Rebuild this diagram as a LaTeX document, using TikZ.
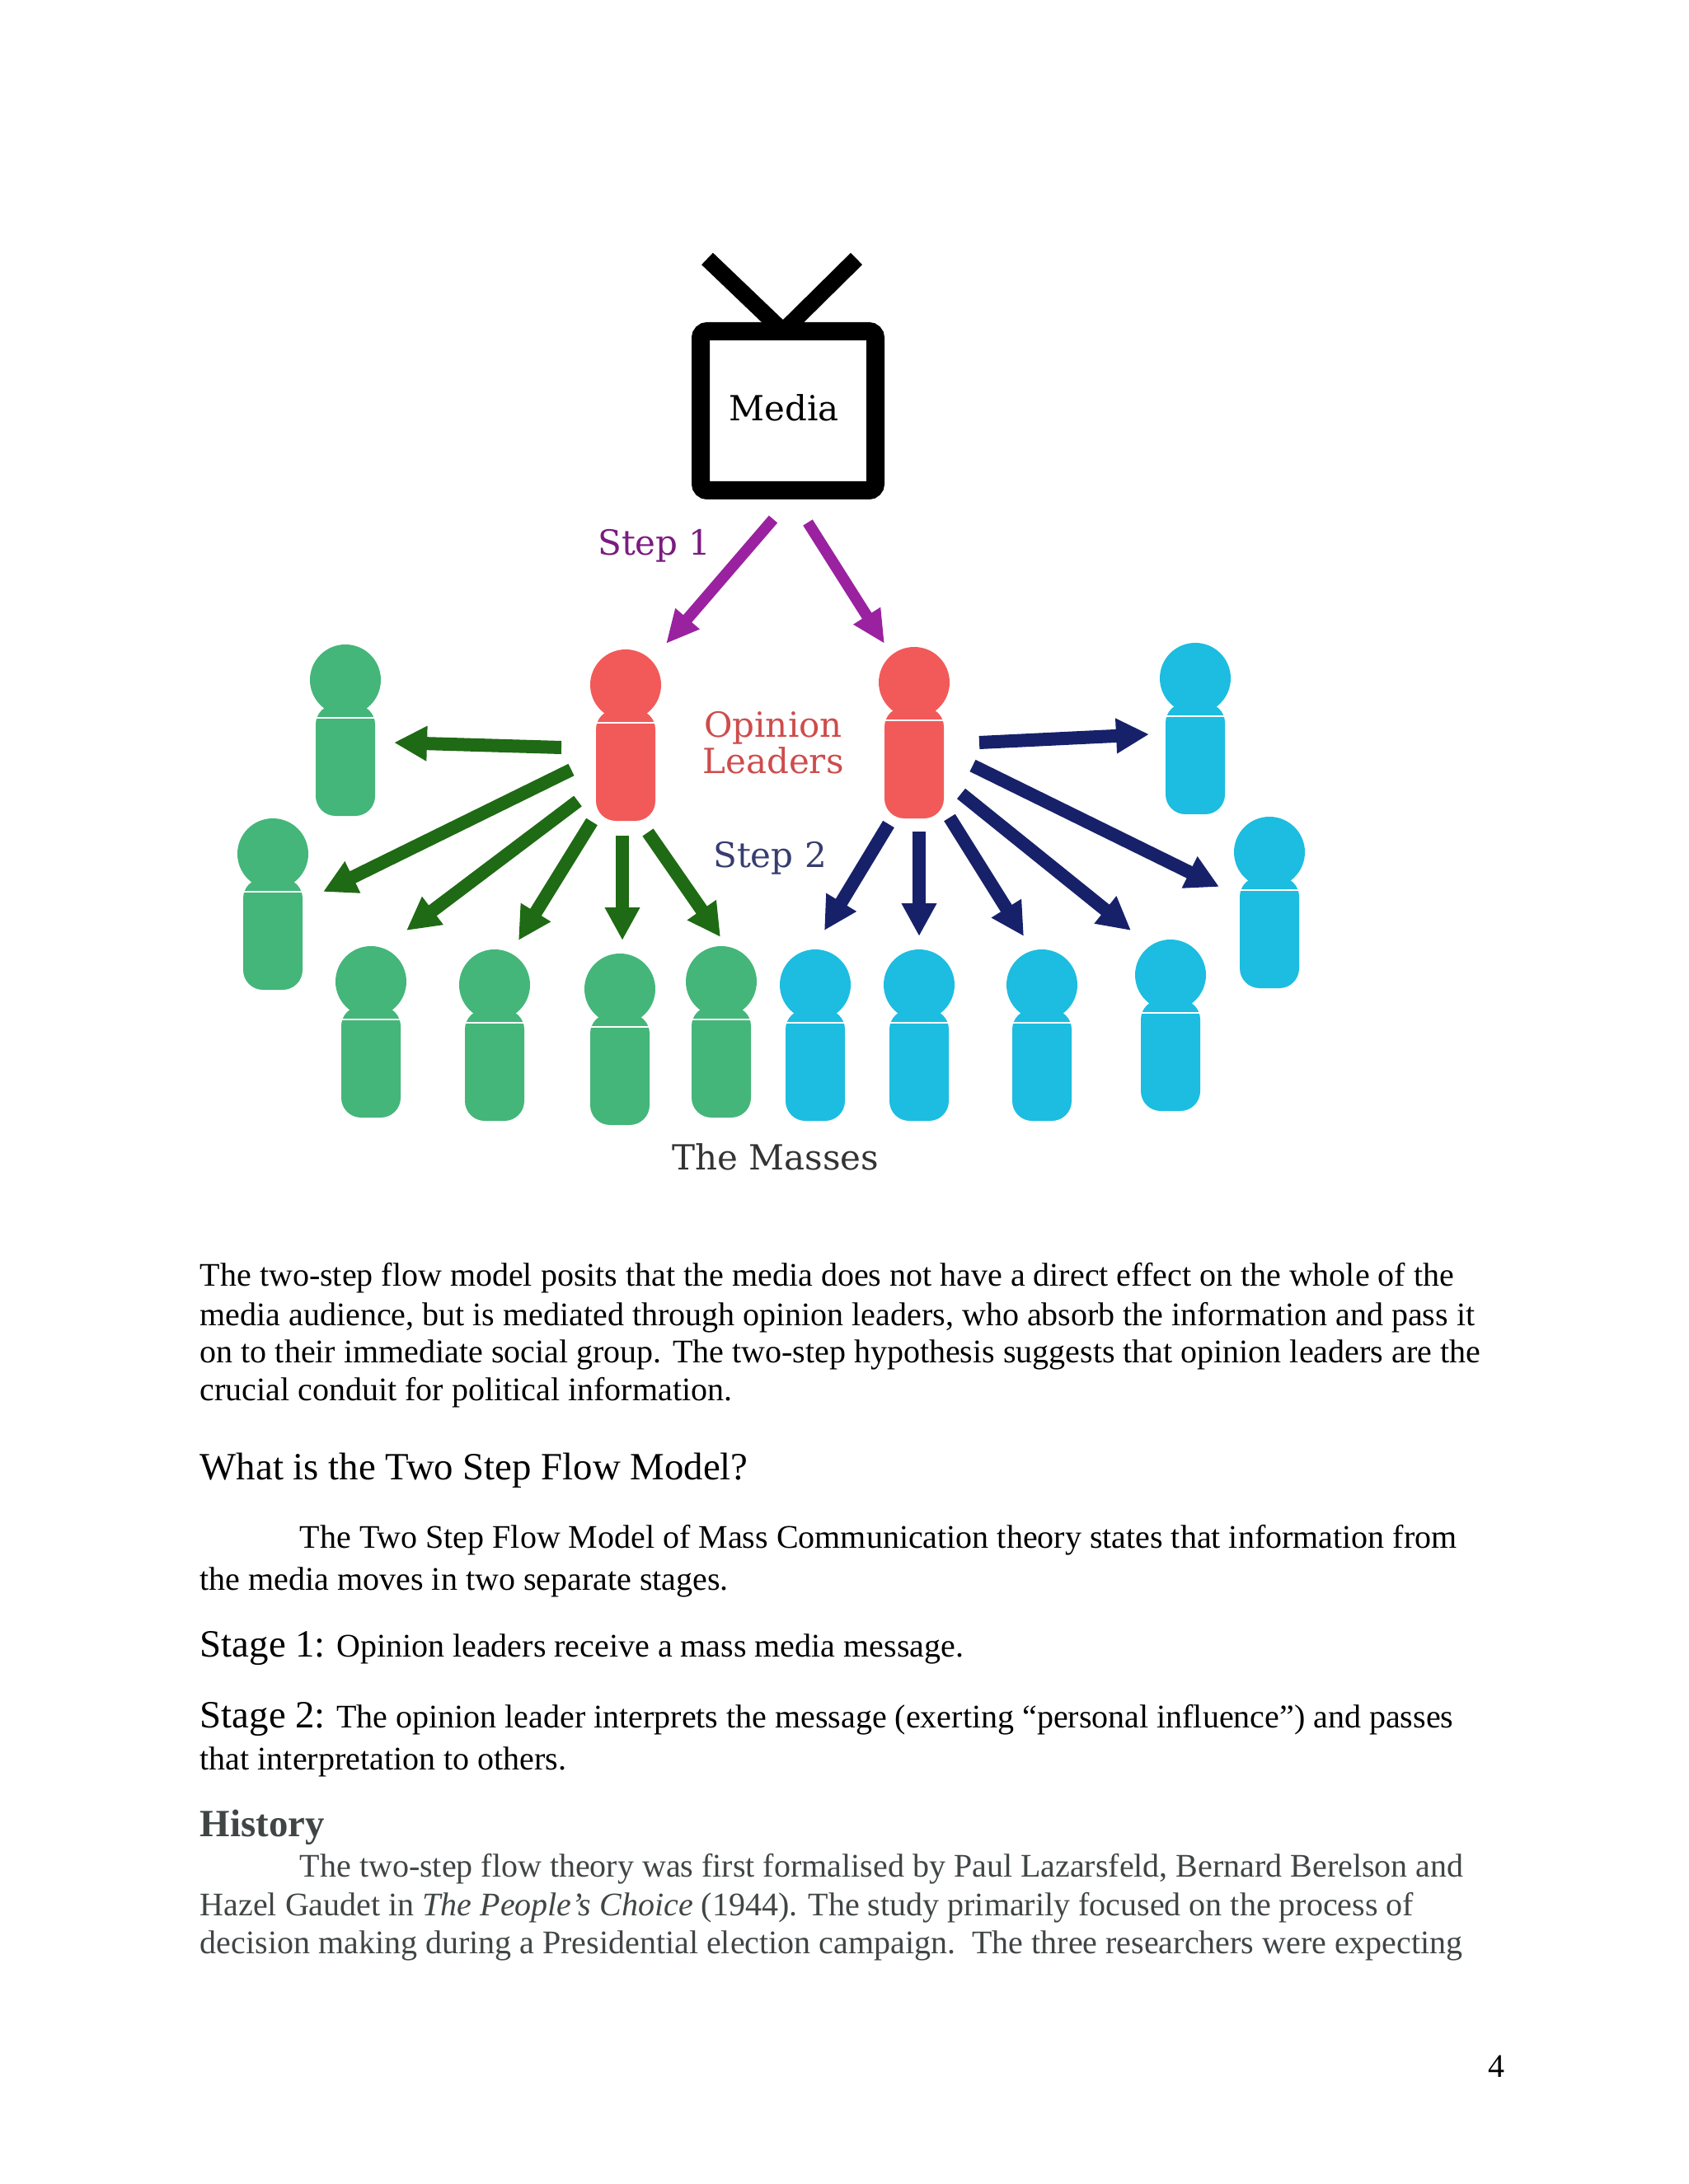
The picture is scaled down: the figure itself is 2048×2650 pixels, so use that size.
\documentclass[tikz,border=0pt]{standalone}
\usepackage{fontspec}
\setmainfont{Liberation Serif}
\newfontfamily\diafont{DejaVu Serif}
\usetikzlibrary{arrows.meta}
\definecolor{pgreen}{HTML}{44B679}
\definecolor{pcyan}{HTML}{1CBDE0}
\definecolor{pred}{HTML}{F25A5A}
\definecolor{agreen}{HTML}{1F6A14}
\definecolor{anavy}{HTML}{17216A}
\definecolor{apurple}{HTML}{9A22A0}
\definecolor{histgray}{HTML}{404545}
\newcommand\dperson[4]{%
  \fill[#4,rounded corners=6pt] (#2-36,#3+30) rectangle (#2+36,#3+165);
  \fill[#4] (#2,#3) circle (43);
  \fill[white] (#2-40,#3+45) rectangle (#2+40,#3+47);
  \coordinate (#1) at (#2,#3);}
\tikzset{
  garrow/.style={line width=4pt, agreen, -{Triangle[length=10pt,width=10pt]}},
  narrow/.style={line width=4pt, anavy, -{Triangle[length=10pt,width=10pt]}},
  parrow/.style={line width=3.4pt, apurple, -{Triangle[length=10pt,width=9pt]}},
  body/.style={anchor=mid west, inner sep=0, font=\fontsize{10}{11.6}\selectfont},
  head/.style={anchor=mid west, inner sep=0, font=\fontsize{11.7}{13}\selectfont},
  lab/.style={font=\diafont\fontsize{10.5}{11}\selectfont, inner sep=0}
}
\begin{document}
\begin{tikzpicture}[x=0.25pt,y=-0.25pt]
\useasboundingbox (0,0) rectangle (2048,2650);
% TV
\draw[line width=5pt] (858,314) -- (950,402) -- (1039,314);
\draw[line width=5.5pt, rounded corners=2pt, fill=white] (850,402) rectangle (1062,595);
\node[lab] (media) at (951,495) {Media};
% people
\dperson{g1}{419}{825}{pgreen}
\dperson{g2}{331}{1036}{pgreen}
\dperson{g3}{450}{1191}{pgreen}
\dperson{g4}{600}{1195}{pgreen}
\dperson{g5}{752}{1200}{pgreen}
\dperson{g6}{875}{1191}{pgreen}
\dperson{c1}{989}{1195}{pcyan}
\dperson{c2}{1115}{1195}{pcyan}
\dperson{c3}{1264}{1195}{pcyan}
\dperson{c4}{1420}{1183}{pcyan}
\dperson{c5}{1450}{823}{pcyan}
\dperson{c6}{1540}{1034}{pcyan}
\dperson{r1}{759}{831}{pred}
\dperson{r2}{1109}{828}{pred}
% step 1
\draw[parrow] (938,630) -- (808,781);
\draw[parrow] (980,634) -- (1073,781);
\node[lab, apurple!80!black] (s1) at (794,662) {Step 1};
% step 2 green
\draw[garrow] (681,907) -- (478,901);
\draw[garrow] (693,934) -- (392,1082);
\draw[garrow] (701,972) -- (493,1129);
\draw[garrow] (718,997) -- (629,1141);
\draw[garrow] (755,1014) -- (755,1141);
\draw[garrow] (786,1010) -- (874,1137);
% navy
\draw[narrow] (1188,901) -- (1394,891);
\draw[narrow] (1180,929) -- (1479,1076);
\draw[narrow] (1166,963) -- (1372,1129);
\draw[narrow] (1152,992) -- (1242,1136);
\draw[narrow] (1115,1009) -- (1115,1136);
\draw[narrow] (1078,1000) -- (1000,1129);
\node[lab, pred!85!black, align=center, font=\diafont\fontsize{10.5}{11}\selectfont] (ol) at (938,901) {Opinion\\Leaders};
\node[lab, anavy!70!gray] (s2) at (934,1041) {Step 2};
\node[lab, black!80] (masses) at (941,1404) {The Masses};
% text
\node[body] at (242,1551) {The two-step flow model posits that the media does not have a direct effect on the whole of the};
\node[body] at (242,1599) {media audience, but is mediated through opinion leaders, who absorb the information and pass it};
\node[body] at (242,1644) {on to their immediate social group. The two-step hypothesis suggests that opinion leaders are the};
\node[body] at (242,1690) {crucial conduit for political information.};
\node[head] at (242,1786) {What is the Two Step Flow Model?};
\node[body] at (363,1869) {The Two Step Flow Model of Mass Communication theory states that information from};
\node[body] at (242,1920) {the media moves in two separate stages.};
\node[body] at (242,2001) {{\fontsize{11.7}{13}\selectfont Stage 1:} Opinion leaders receive a mass media message.};
\node[body] at (242,2087) {{\fontsize{11.7}{13}\selectfont Stage 2:} The opinion leader interprets the message (exerting “personal influence”) and passes};
\node[body] at (242,2138) {that interpretation to others.};
\node[head, histgray, font=\bfseries\fontsize{11.7}{13}\selectfont] at (242,2219) {History};
\node[body, histgray] at (363,2268) {The two-step flow theory was first formalised by Paul Lazarsfeld, Bernard Berelson and};
\node[body, histgray] at (242,2315) {Hazel Gaudet in \textit{The People’s Choice} (1944). The study primarily focused on the process of};
\node[body, histgray] at (242,2361) {decision making during a Presidential election campaign.\ \ The three researchers were expecting};
\node[body] at (1805,2511) {4};
\end{tikzpicture}
\end{document}
